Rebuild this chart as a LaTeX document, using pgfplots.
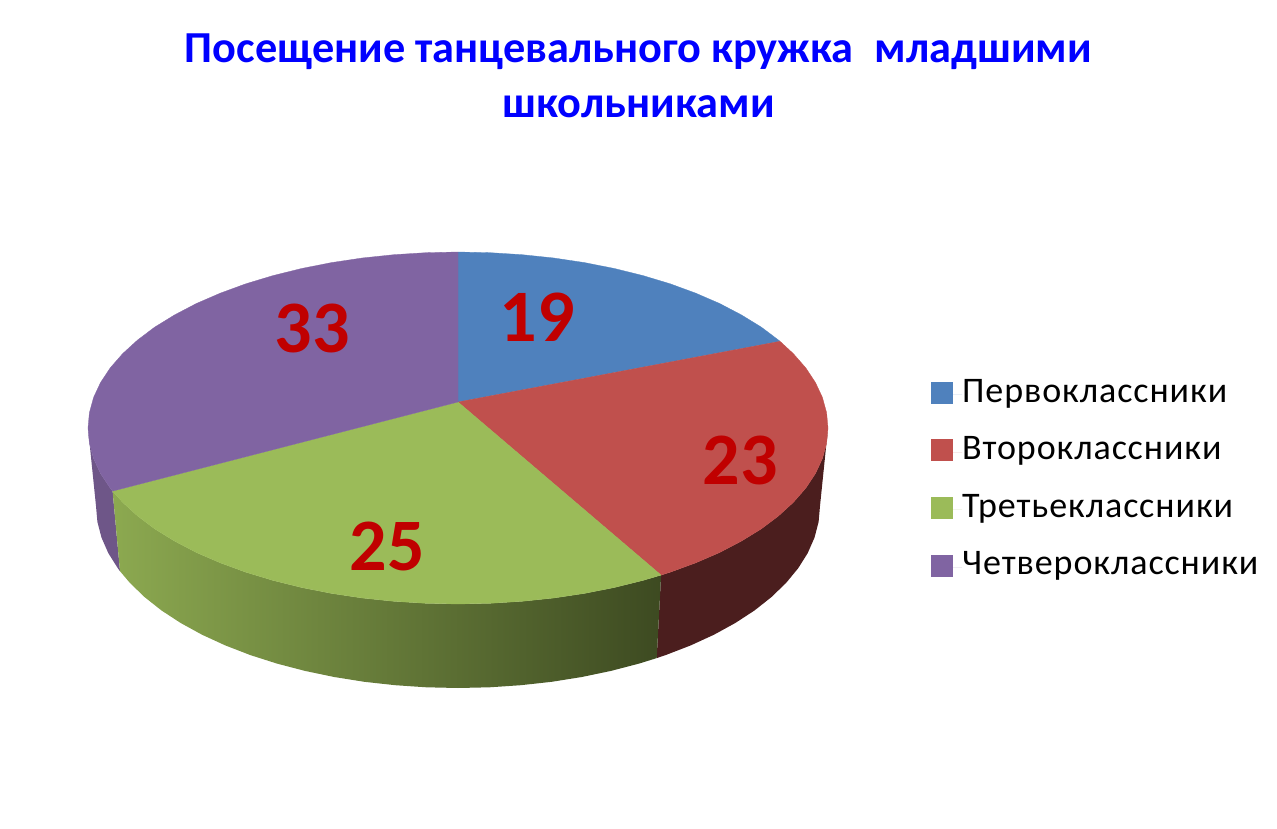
\documentclass[border=0pt]{standalone}
\usepackage{fontspec}
\setmainfont{Carlito}
\usepackage{pgfplots}
\pgfplotsset{compat=1.18}

\definecolor{pieblue}{HTML}{4F81BD}
\definecolor{piered}{HTML}{C0504D}
\definecolor{piegreen}{HTML}{9BBB59}
\definecolor{piepurple}{HTML}{8064A2}
\definecolor{sidered}{HTML}{4B1E1E}
\definecolor{sidepurple}{HTML}{6E5688}
\definecolor{greenA}{HTML}{8CA950}
\definecolor{greenB}{HTML}{62763A}
\definecolor{greenC}{HTML}{3D4A21}
\definecolor{labelred}{HTML}{C00000}

\begin{document}
\begin{tikzpicture}
\begin{axis}[
    scale only axis,
    width=1277pt,
    height=829pt,
    xmin=0, xmax=1277,
    ymin=0, ymax=829,
    y dir=reverse,
    axis lines=none,
    clip=false,
    legend style={
        at={(axis cs:931,380)},
        anchor=north west,
        draw=none,
        fill=none,
        inner sep=0pt,
        outer sep=0pt,
        row sep=28.6pt,
        font=\fontsize{36}{36}\selectfont\addfontfeatures{LetterSpace=2.6},
        nodes={inner sep=0pt, text height=22pt, text depth=7pt},
    },
    legend cell align=left,
    legend image code/.code={
        \fill[#1] (0pt,-8.5pt) rectangle (21pt,12.5pt);
        \path[draw=none] (0pt,0pt) -- (31pt,0pt);
    },
]
% side walls of the disc
\addplot[forget plot, fill=sidepurple, draw=none] coordinates {
    (112.6,491.1) (110.3,488.2) (100.6,473.6) (93.6,458.6) (89.4,443.3) (88,428)
    (96,506) (97.4,521.9) (101.5,537.6) (108.3,553.1) (117.8,568.2) (120,571.2)
} -- cycle;
\addplot[forget plot, fill=sidered, draw=none] coordinates {
    (828,428) (826.6,443.3) (822.4,458.6) (815.4,473.6) (805.7,488.2) (793.3,502.4)
    (778.4,516) (761.1,529) (741.4,541.1) (719.6,552.5) (695.8,562.8) (670.2,572.2) (661.1,575.1)
    (656.7,658.1) (665.6,655.1) (690.7,645.4) (714,634.7) (735.3,623) (754.6,610.4)
    (771.5,597) (786.1,582.9) (798.2,568.2) (807.7,553.1) (814.5,537.6) (818.6,521.9) (820,506)
} -- cycle;
\addplot[forget plot, draw=none, left color=greenA, middle color=greenB, right color=greenC] coordinates {
    (661.1,575.1) (643,580.4) (614.4,587.5) (584.5,593.4) (553.8,598) (522.2,601.3) (490.3,603.3)
    (458,604) (425.7,603.3) (393.8,601.3) (362.2,598) (331.5,593.4) (301.6,587.5) (273,580.4)
    (245.8,572.2) (220.2,562.8) (196.4,552.5) (174.6,541.1) (154.9,529) (137.6,516) (122.7,502.4) (112.6,491.1)
    (120,571.2) (129.9,582.9) (144.5,597) (161.4,610.4) (180.7,623) (202,634.7) (225.3,645.4)
    (250.4,655.1) (277,663.6) (305,670.9) (334.2,677) (364.3,681.8) (395.2,685.2) (426.4,687.3)
    (458,688) (489.6,687.3) (520.8,685.2) (551.7,681.8) (581.8,677) (611,670.9) (639,663.6) (656.7,658.1)
} -- cycle;

% top of the disc: 19, 23, 25, 33
\addplot[fill=pieblue, draw=pieblue, line width=0.3pt] coordinates {
    (458,402) (458,252) (490.3,252.7) (522.2,254.7) (553.8,258) (584.5,262.6) (614.4,268.5)
    (643,275.6) (670.2,283.8) (695.8,293.2) (719.6,303.5) (741.4,314.9) (761.1,327) (778.4,340) (780,341.3)
} -- cycle;
\addlegendentry{Первоклассники}
\addplot[fill=piered, draw=piered, line width=0.3pt] coordinates {
    (458,402) (780,341.3) (793.3,353.6) (805.7,367.8) (815.4,382.4) (822.4,397.4) (826.6,412.7)
    (828,428) (826.6,443.3) (822.4,458.6) (815.4,473.6) (805.7,488.2) (793.3,502.4) (778.4,516)
    (761.1,529) (741.4,541.1) (719.6,552.5) (695.8,562.8) (670.2,572.2) (661.1,575.1)
} -- cycle;
\addlegendentry{Второклассники}
\addplot[fill=piegreen, draw=piegreen, line width=0.3pt] coordinates {
    (458,402) (661.1,575.1) (643,580.4) (614.4,587.5) (584.5,593.4) (553.8,598) (522.2,601.3) (490.3,603.3)
    (458,604) (425.7,603.3) (393.8,601.3) (362.2,598) (331.5,593.4) (301.6,587.5) (273,580.4)
    (245.8,572.2) (220.2,562.8) (196.4,552.5) (174.6,541.1) (154.9,529) (137.6,516) (122.7,502.4) (112.6,491.1)
} -- cycle;
\addlegendentry{Третьеклассники}
\addplot[fill=piepurple, draw=piepurple, line width=0.3pt] coordinates {
    (458,402) (112.6,491.1) (110.3,488.2) (100.6,473.6) (93.6,458.6) (89.4,443.3) (88,428)
    (89.4,412.7) (93.6,397.4) (100.6,382.4) (110.3,367.8) (122.7,353.6) (137.6,340) (154.9,327)
    (174.6,314.9) (196.4,303.5) (220.2,293.2) (245.8,283.8) (273,275.6) (301.6,268.5) (331.5,262.6)
    (362.2,258) (393.8,254.7) (425.7,252.7) (458,252)
} -- cycle;
\addlegendentry{Четвероклассники}

% value labels
\node[font=\fontsize{74}{74}\selectfont\bfseries, text=labelred] at (axis cs:537,317) {19};
\node[font=\fontsize{74}{74}\selectfont\bfseries, text=labelred] at (axis cs:740,460) {23};
\node[font=\fontsize{74}{74}\selectfont\bfseries, text=labelred] at (axis cs:387,546) {25};
\node[font=\fontsize{74}{74}\selectfont\bfseries, text=labelred] at (axis cs:312,328) {33};

% title
\node[font=\fontsize{44.3}{55}\selectfont\bfseries, text=blue, align=center, anchor=center]
    at (axis cs:638.5,75.5) {Посещение танцевального кружка\hspace{0.25em} младшими\\школьниками};

\path (axis cs:0,0) (axis cs:1277,829);
\end{axis}
\end{tikzpicture}
\end{document}
